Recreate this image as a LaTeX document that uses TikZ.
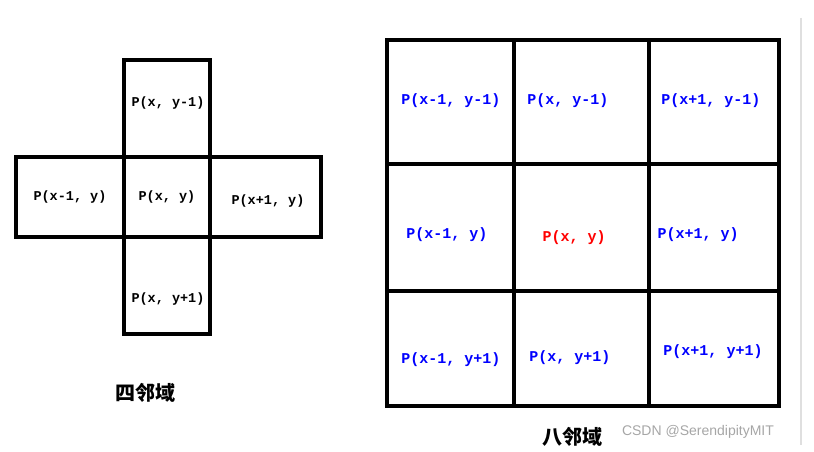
\documentclass[tikz,border=0pt]{standalone}
\usepackage{fontspec}
\setmainfont{Liberation Mono}
\newfontfamily\cjkf{Noto Sans CJK SC}
\begin{document}
\begin{tikzpicture}[x=1pt,y=-1pt,
  cell/.style={line width=4pt},
  lbl/.style={font=\fontsize{13.5}{14}\selectfont\bfseries, inner sep=0pt},
  blu/.style={lbl,font=\fontsize{15}{16}\selectfont\bfseries,text=blue},
  blk/.style={lbl,text=black}]
\useasboundingbox (0,0) rectangle (814,452);
% left cross
\draw[cell] (124,60) rectangle (210,334);
\draw[cell] (16,157) rectangle (321,237);
\draw[cell] (124,157) -- (124,237) (210,157) -- (210,237);
\node[blk] (a1) at (168,103) {P(x, y-1)};
\node[blk] (a2) at (70,197) {P(x-1, y)};
\node[blk] (a3) at (167,197) {P(x, y)};
\node[blk] (a4) at (268,201) {P(x+1, y)};
\node[blk] (a5) at (168,299) {P(x, y+1)};
\node[font=\cjkf\bfseries\fontsize{20}{22}\selectfont] (t1) at (145,393) {四邻域};
% right grid
\draw[cell] (387,40) rectangle (779,406);
\draw[cell] (514,40) -- (514,406) (649,40) -- (649,406)
  (387,164) -- (779,164) (387,291) -- (779,291);
\node[blu] (b1) at (451,101) {P(x-1, y-1)};
\node[blu] (b2) at (568,101) {P(x, y-1)};
\node[blu] (b3) at (711,101) {P(x+1, y-1)};
\node[blu] (b4) at (447,235) {P(x-1, y)};
\node[blu,text=red] (b5) at (574,238) {P(x, y)};
\node[blu] (b6) at (698,235) {P(x+1, y)};
\node[blu] (b7) at (451,360) {P(x-1, y+1)};
\node[blu] (b8) at (570,358) {P(x, y+1)};
\node[blu] (b9) at (713,352) {P(x+1, y+1)};
\node[font=\cjkf\bfseries\fontsize{20}{22}\selectfont] (t2) at (572,437) {八邻域};
\node[font=\fontspec{Liberation Sans}\fontsize{14}{16}\selectfont, text=gray!70] (w) at (698,432) {CSDN @SerendipityMIT};
\draw[gray!25, line width=1.5pt] (801,18) -- (801,445);
\end{tikzpicture}
\end{document}
